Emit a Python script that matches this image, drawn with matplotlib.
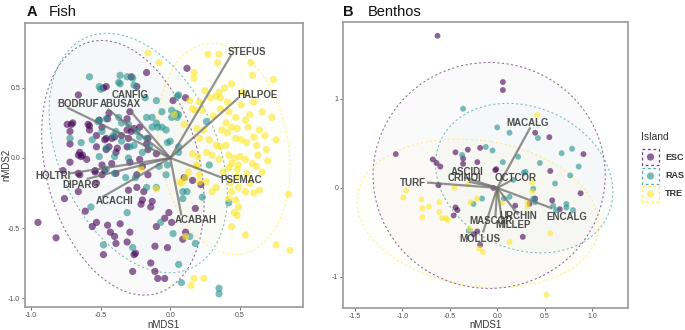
import matplotlib
matplotlib.use("Agg")
import matplotlib.pyplot as plt
from matplotlib.patches import Ellipse, Rectangle
import numpy as np

plt.rcParams['font.family'] = ['Liberation Sans', 'DejaVu Sans']

groups = ["ESC", "RAS", "TRE"]
colors = {"ESC": "#440154", "RAS": "#21908C", "TRE": "#FDE725"}

# ---------------- Fish data ----------------
fish_esc = [
(-0.17,0.61),(-0.28,0.58),(-0.48,0.50),(-0.66,0.45),(0.12,0.64),(0.02,0.41),(0.11,0.43),(-0.46,0.51),(-0.24,0.51),(-0.29,0.33),(-0.44,0.32),
(-0.74,0.24),(-0.71,0.24),(-0.72,0.19),(-0.58,0.23),(-0.58,0.20),(-0.53,0.16),(-0.51,0.27),(-0.45,0.28),(-0.26,0.21),(-0.31,0.28),(-0.46,0.14),(-0.40,0.15),(-0.17,0.10),(-0.10,0.03),(-0.30,0.14),(-0.39,0.04),(-0.66,0.02),(-0.64,0.01),(-0.72,0.10),(-0.53,0.08),(-0.44,0.08),
(-0.49,0.22),(-0.47,0.13),(-0.42,0.14),(-0.35,0.16),(-0.31,0.20),(-0.28,0.19),(-0.22,0.22),(-0.16,0.14),(-0.16,0.06),(-0.31,0.08),(-0.38,0.07),(-0.46,0.06),(-0.65,0.04),(-0.63,0.02),(-0.72,-0.03),(-0.60,-0.01),(-0.29,-0.03),(-0.22,-0.01),
(-0.95,-0.46),(-0.82,-0.57),(-0.76,-0.29),(-0.66,-0.24),(-0.61,-0.38),(-0.56,-0.49),(-0.53,-0.46),(-0.48,-0.69),(-0.45,-0.48),(-0.43,-0.53),(-0.40,-0.56),(-0.39,-0.61),(-0.36,-0.47),(-0.31,-0.60),(-0.29,-0.53),(-0.27,-0.81),(-0.26,-0.69),(-0.25,-0.68),(-0.20,-0.30),(-0.14,-0.35),(-0.14,-0.75),(-0.11,-0.63),(-0.11,-0.81),(-0.09,-0.86),(-0.10,-0.49),(-0.04,-0.43),(-0.04,-0.86),(-0.02,-0.64),(0.01,-0.46),(0.09,-0.58),(0.18,-0.36),(-0.24,-0.21),(-0.19,-0.24),(-0.20,-0.06),(-0.49,-0.12),(-0.53,-0.18),(-0.47,-0.09),(-0.54,-0.09),(-0.66,-0.11),
(-0.30,-0.23),(-0.21,-0.33),(-0.13,-0.31),(-0.01,-0.39),(0.10,-0.14),(0.16,-0.16),(0.22,-0.19),(0.11,-0.53),(-0.24,-0.12),(-0.16,-0.12),(-0.39,-0.11),(-0.54,-0.10),(-0.49,-0.05),(-0.42,-0.04),(-0.65,-0.12),(-0.77,-0.09),(-0.70,0.25),(-0.59,0.24),
]
fish_ras = [
(-0.58,0.58),(-0.51,0.51),(-0.36,0.59),(-0.31,0.58),(-0.37,0.54),(-0.27,0.57),(-0.26,0.52),(-0.50,0.49),(-0.10,0.41),(0.05,0.44),(-0.37,0.29),(-0.51,0.27),(-0.30,0.24),(-0.13,0.29),(-0.13,0.22),(-0.09,0.22),(-0.06,0.22),(0.01,0.29),(0.05,0.29),(0.06,0.31),(0.01,0.34),(-0.72,0.14),(-0.49,0.19),(-0.41,0.16),(-0.39,0.19),(-0.24,0.19),(-0.22,0.15),(-0.15,0.08),(-0.29,0.08),(-0.17,0.14),(0.06,0.08),(0.00,0.12),(-0.46,0.07),(-0.56,0.13),(-0.51,0.01),(-0.40,0.01),(-0.30,0.00),(-0.20,0.04),
(-0.06,0.33),(0.06,0.45),(-0.03,0.20),(-0.02,0.11),(0.06,0.04),(-0.02,-0.05),(-0.08,-0.06),(-0.03,-0.12),(0.12,-0.24),(0.26,0.26),(0.28,-0.05),
(-0.46,-0.08),(-0.40,-0.11),(-0.32,-0.14),(-0.25,-0.14),(-0.17,-0.21),(-0.10,-0.21),(0.09,-0.24),(0.09,-0.29),(-0.07,-0.46),(0.02,-0.54),(0.14,-0.56),(0.18,-0.61),(0.06,-0.76),(0.08,-0.89),(0.35,-0.93),(0.35,-0.97),(0.23,-0.28),(0.42,-0.32),(-0.48,-0.62),(-0.31,-0.39),(-0.27,-0.64),(-0.57,-0.35),
(-0.18,0.43),(-0.52,0.26),(-0.46,0.28),(-0.35,0.25),(-0.64,0.11),(-0.35,0.12),(-0.26,0.09),(-0.10,0.25),(0.04,0.32),(-0.17,0.29),(-0.36,0.53),
]
fish_tre = [
(0.27,0.74),(0.35,0.74),(0.34,0.68),(0.58,0.68),(0.17,0.61),(0.17,0.57),(0.59,0.59),(0.74,0.56),(0.44,0.53),(0.39,0.50),(0.35,0.47),(0.33,0.44),(0.29,0.43),(0.36,0.43),(0.41,0.40),(0.14,0.41),(0.21,0.40),(0.23,0.34),(0.16,0.35),(0.51,0.38),(0.73,0.29),(0.42,0.33),(0.47,0.29),(0.54,0.27),(0.40,0.25),(0.44,0.22),(0.48,0.21),(0.56,0.22),(0.37,0.20),(0.41,0.18),(0.47,0.14),(0.51,0.13),(0.55,0.11),(0.60,0.15),(0.62,0.09),(0.76,0.13),(0.69,0.06),(0.33,0.09),(0.36,0.08),(0.40,0.09),(0.28,0.13),(0.24,0.20),(0.19,0.21),(0.21,0.14),(0.26,0.04),(0.16,0.03),(0.20,0.01),(0.30,0.02),(0.42,0.02),(0.46,0.00),(0.50,0.01),(0.54,-0.01),(0.59,-0.04),(0.44,-0.04),(0.49,-0.05),(0.42,-0.07),(0.48,-0.08),(0.62,-0.06),(0.66,-0.10),(0.55,-0.11),(0.48,-0.13),(0.43,-0.18),(0.49,-0.21),(0.54,-0.24),(0.85,-0.26),(0.33,-0.21),(0.21,-0.17),(0.11,-0.14),(0.13,-0.10),(0.19,-0.05),(0.07,-0.17),(0.18,0.34),(0.10,0.24),(0.03,0.31),(-0.16,0.75),(-0.08,0.68),
(0.44,-0.24),(0.42,-0.29),(0.47,-0.30),(0.49,-0.35),(0.46,-0.39),(0.48,-0.41),(0.44,-0.49),(0.54,-0.55),(0.64,-0.23),(0.60,-0.25),(0.76,-0.62),(0.86,-0.66),(0.30,-0.24),(0.26,-0.17),(0.21,-0.12),(0.08,-0.18),(0.19,-0.06),(-0.10,-0.22),(-0.21,-0.08),(0.11,-0.56),(0.17,-0.86),(0.15,-0.91),(0.24,-0.86),
(0.52,0.47),(0.60,0.40),(0.66,0.33),(0.31,0.30),(0.36,0.35),(0.57,0.31),(0.64,0.20),(0.68,0.16),(0.35,-0.01),(0.38,-0.10),(0.57,-0.18),(0.70,-0.02),(0.25,0.48),(0.63,0.02),
]
# ellipse params: centre x, centre y, semi-major, semi-minor, angle (deg)
fish_ell = {
    "ESC": (-0.34, -0.07, 0.93, 0.55, 105),
    "RAS": (-0.23, 0.035, 0.906, 0.566, 115),
    "TRE": (0.385, 0.065, 0.762, 0.463, 100),
}
fish_species = ["STEFUS", "HALPOE", "PSEMAC", "ACABAH", "ACACHI", "DIPARG", "HOLTRI", "BODRUF", "ABUSAX", "CANFIG"]
fish_vec_x = [0.44, 0.49, 0.37, 0.08, -0.49, -0.60, -0.72, -0.74, -0.29, -0.45]
fish_vec_y = [0.74, 0.43, -0.14, -0.41, -0.28, -0.15, -0.11, 0.36, 0.34, 0.35]
fish_lab_x = [0.55, 0.63, 0.51, 0.18, -0.40, -0.64, -0.84, -0.66, -0.36, -0.29]
fish_lab_y = [0.76, 0.45, -0.16, -0.44, -0.31, -0.19, -0.13, 0.385, 0.385, 0.45]

# ---------------- Benthos data ----------------
ben_esc = [(-0.63,1.71),(0.06,1.19),(0.06,1.10),(0.55,0.57),(0.40,0.62),(0.91,0.38),(-1.07,0.38),(-0.44,0.40),(-0.31,0.43),(-0.18,0.45),(-0.68,0.32),(-0.36,0.33),(-0.21,0.29),(-0.60,0.24),(-0.36,0.27),(-0.01,0.21),(0.56,0.19),(-0.62,0.03),(0.88,-0.06),(0.58,-0.14),(0.34,-0.18),(0.19,-0.20),(-0.44,-0.22),(-0.42,-0.25),(-0.46,-0.31),(0.27,-0.55),(-0.21,-0.49),(-0.18,-0.64),(-0.04,0.00),(0.66,-0.24),(0.40,-0.12),(-0.25,-0.52),(-0.02,0.20),(-0.64,0.28)]
ben_ras = [(-0.36,0.89),(0.00,0.68),(0.13,0.62),(0.43,0.56),(-0.12,0.46),(-0.05,0.42),(0.22,0.35),(0.06,0.29),(0.45,0.28),(0.68,0.39),(0.79,0.44),(-0.37,0.37),(0.86,0.24),(0.77,0.14),(0.61,0.05),(0.38,-0.01),(0.38,-0.12),(0.40,-0.16),(0.28,0.17),(0.17,0.09),(0.07,-0.12),(0.13,-0.10),(-0.16,-0.12),(-0.25,-0.18),(0.59,-0.20),(0.73,-0.22),(0.80,-0.25),(0.62,-0.25),(-0.30,-0.48),(0.30,0.18),(0.73,-0.18)]
ben_tre = [(0.42,0.82),(-0.96,-0.03),(-0.99,-0.11),(-0.80,-0.13),(-0.72,-0.21),(-0.79,-0.23),(-0.79,-0.33),(-0.61,-0.16),(-0.61,-0.27),(-0.58,-0.34),(-0.54,-0.34),(-0.52,-0.36),(-0.45,0.00),(-0.31,0.04),(-0.21,-0.12),(-0.29,-0.46),(-0.19,-0.68),(-0.15,-0.72),(0.00,-0.08),(0.13,-0.61),(0.37,-0.04),(0.32,-0.16),(0.56,-0.51),(0.52,-1.20),(0.37,0.06),(-0.28,-0.16),(0.32,-0.21),(0.05,-0.17)]
ben_ell = {
    "ESC": (-0.085, 0.14, 1.27, 1.225, 90),
    "RAS": (0.285, 0.11, 0.979, 0.789, 150),
    "TRE": (-0.205, -0.285, 1.287, 0.817, 170),
}
ben_species = ["MACALG", "OCTCOR", "ASCIDI", "CRINOI", "TURF", "ENCALG", "URCHIN", "MILLEP", "MASCOR", "MOLLUS"]
ben_vec_x = [0.35, 0.16, -0.35, -0.30, -0.74, 0.58, 0.22, 0.05, -0.02, -0.15]
ben_vec_y = [0.68, 0.09, 0.12, 0.07, 0.06, -0.23, -0.30, -0.36, -0.33, -0.50]
ben_lab_x = [0.32, 0.19, -0.32, -0.34, -0.89, 0.73, 0.22, 0.17, -0.07, -0.18]
ben_lab_y = [0.73, 0.11, 0.18, 0.11, 0.06, -0.33, -0.32, -0.42, -0.37, -0.57]

W, H = 685, 330
fig = plt.figure(figsize=(W / 100, H / 100), dpi=100)

def px_rect(l, t, r, b):
    return [l / W, 1 - b / H, (r - l) / W, (b - t) / H]

axA = fig.add_axes(px_rect(25, 22.7, 303, 307))
axB = fig.add_axes(px_rect(343, 22, 628, 308))

def draw_panel(ax, pts, ell, species, vx, vy, lx, ly, msize, lab_fs):
    for g in groups:
        cx, cy, a, b, ang = ell[g]
        ax.add_patch(Ellipse((cx, cy), 2 * a, 2 * b, angle=ang, facecolor=colors[g],
                             alpha=0.018, edgecolor='none', zorder=1))
        ax.add_patch(Ellipse((cx, cy), 2 * a, 2 * b, angle=ang, facecolor='none',
                             edgecolor=colors[g], alpha=0.6, lw=0.75,
                             linestyle=(0, (2.0, 2.4)), zorder=2))
    for g in groups:
        arr = np.array(pts[g])
        ax.scatter(arr[:, 0], arr[:, 1], s=msize, color=colors[g], alpha=0.6,
                   edgecolors='none', zorder=3)
    for i in range(len(species)):
        ax.plot([0, vx[i]], [0, vy[i]], color='#6e6e6e', alpha=0.75, lw=1.6,
                solid_capstyle='butt', zorder=4)
    for i in range(len(species)):
        ax.text(lx[i], ly[i], species[i], ha='center', va='center', fontsize=lab_fs,
                fontweight='bold', color='#3a3a3a', alpha=0.9, zorder=5)
    for s in ax.spines.values():
        s.set_color('#a0a0a0')
        s.set_linewidth(1.3)
    ax.tick_params(labelsize=5, length=2, width=0.6, color='#555555',
                   labelcolor='#4d4d4d', pad=1.5)

draw_panel(axA, {"ESC": fish_esc, "RAS": fish_ras, "TRE": fish_tre}, fish_ell,
           fish_species, fish_vec_x, fish_vec_y, fish_lab_x, fish_lab_y, 27, 7)
axA.set_xlim(-1.043, 0.953)
axA.set_ylim(-1.064, 0.966)
axA.set_xticks([-1.0, -0.5, 0.0, 0.5])
axA.set_yticks([-1.0, -0.5, 0.0, 0.5])
axA.set_xticklabels(["-1.0", "-0.5", "0.0", "0.5"])
axA.set_yticklabels(["-1.0", "-0.5", "0.0", "0.5"])

draw_panel(axB, {"ESC": ben_esc, "RAS": ben_ras, "TRE": ben_tre}, ben_ell,
           ben_species, ben_vec_x, ben_vec_y, ben_lab_x, ben_lab_y, 18, 7)
axB.set_xlim(-1.627, 1.38)
axB.set_ylim(-1.35, 1.865)
axB.set_xticks([-1.5, -1.0, -0.5, 0.0, 0.5, 1.0])
axB.set_xticklabels(["-1.5", "-1.0", "-0.5", "0.0", "0.5", "1.0"])
axB.set_yticks([-1, 0, 1])
axB.set_yticklabels(["-1", "0", "1"])

# overlay for titles, axis labels and legend (pixel coordinates)
ov = fig.add_axes([0, 0, 1, 1], zorder=10)
ov.set_xlim(0, W)
ov.set_ylim(H, 0)
ov.axis('off')
ov.patch.set_alpha(0)

ov.text(27, 12, "A", fontsize=10.5, fontweight='bold', ha='left', va='center', color='#111111')
ov.text(49, 12, "Fish", fontsize=10.5, ha='left', va='center', color='#111111')
ov.text(343, 12, "B", fontsize=10.5, fontweight='bold', ha='left', va='center', color='#111111')
ov.text(368, 12, "Benthos", fontsize=10.5, ha='left', va='center', color='#111111')

ov.text(164, 325, "nMDS1", fontsize=7, ha='center', va='center', color='#333333')
ov.text(485.5, 325, "nMDS1", fontsize=7, ha='center', va='center', color='#333333')
ov.text(6, 165, "nMDS2", fontsize=7, ha='center', va='center', rotation=90, color='#333333')

ov.text(641, 137, "Island", fontsize=7.5, ha='left', va='center', color='#333333')
key_y = [157, 176, 194]
for g, ky in zip(groups, key_y):
    ov.add_patch(Rectangle((642, ky - 8), 17, 16, facecolor=colors[g], alpha=0.03,
                           edgecolor='none'))
    ov.add_patch(Rectangle((642, ky - 8), 17, 16, facecolor='none', edgecolor=colors[g],
                           alpha=0.75, lw=0.9, linestyle=(0, (2.2, 2.2))))
    ov.scatter([650.5], [ky], s=27, color=colors[g], alpha=0.6, edgecolors='none')
    ov.text(665, ky, g, fontsize=6.5, fontweight='bold', ha='left', va='center', color='#333333')

fig.savefig("out.png", dpi=100)
